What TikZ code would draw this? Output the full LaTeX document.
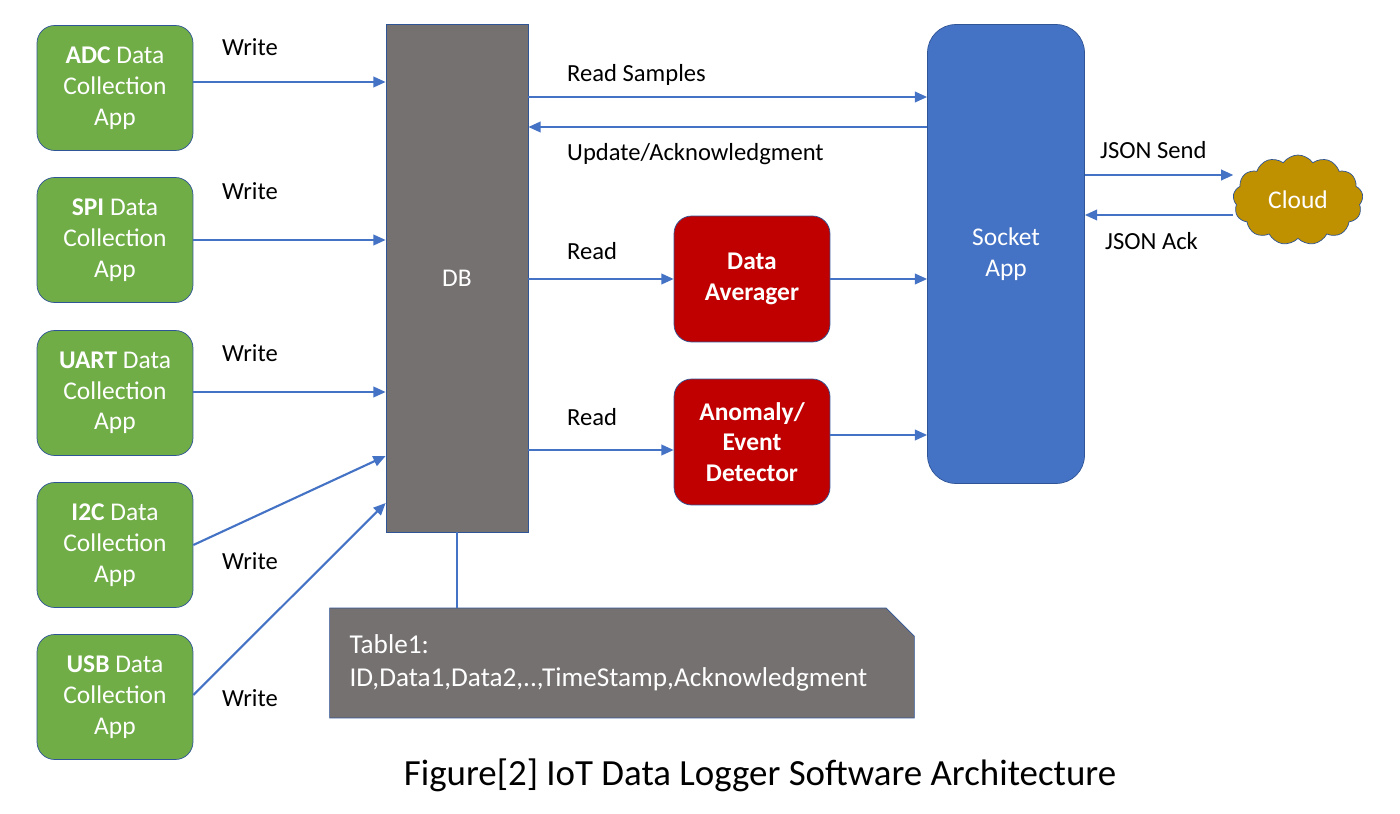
\documentclass[tikz,border=0pt]{standalone}
\usepackage{fontspec}
\setmainfont{Carlito}
\usetikzlibrary{shapes.symbols, shapes.misc, arrows.meta}
\definecolor{appgreen}{RGB}{112,173,71}
\definecolor{edgeblue}{RGB}{47,85,151}
\definecolor{lineblue}{RGB}{68,114,196}
\definecolor{dbgray}{RGB}{118,113,113}
\definecolor{procred}{RGB}{192,0,0}
\definecolor{cloudgold}{RGB}{191,144,0}
\tikzset{
  app/.style={rectangle, rounded corners=10pt, minimum width=3.12cm, minimum height=2.5cm, align=center, draw=edgeblue, fill=appgreen, text=white, font=\fontsize{14.5}{17.5}\selectfont},
  proc/.style={rectangle, rounded corners=10pt, minimum width=3.12cm, minimum height=2.52cm, align=center, draw=edgeblue, fill=procred, text=white, font=\fontsize{14.5}{17.5}\selectfont\bfseries},
  lbl/.style={font=\fontsize{14}{17}\selectfont, anchor=west},
  arrow/.style={line width=1.2pt, draw=lineblue, -{Triangle[length=7pt,width=6pt]}}
}
\begin{document}
\begin{tikzpicture}[x=0.02cm, y=-0.02cm]
  \useasboundingbox (0,0) rectangle (1400,814);
  % sources
  \node (adc) [app] at (115,88) {\textbf{ADC} Data\\Collection\\App};
  \node (spi) [app] at (115,240) {\textbf{SPI} Data\\Collection\\App};
  \node (uart) [app] at (115,393) {\textbf{UART} Data\\Collection\\App};
  \node (iic) [app] at (115,545) {\textbf{I2C} Data\\Collection\\App};
  \node (usb) [app] at (115,697) {\textbf{USB} Data\\Collection\\App};
  % database
  \node (db) [rectangle, draw=edgeblue, fill=dbgray, text=white, minimum width=2.84cm, minimum height=10.16cm, font=\fontsize{14.5}{17.5}\selectfont] at (457,278) {DB};
  \node (table) [chamfered rectangle, chamfered rectangle corners=north east, chamfered rectangle xsep=8pt, chamfered rectangle ysep=8pt, draw=edgeblue, fill=dbgray, text=white, minimum width=11.5cm, minimum height=2.2cm, text width=10.9cm, align=left, font=\fontsize{15.5}{18.5}\selectfont] at (622,663) {Table1:\\ID,Data1,Data2,..,TimeStamp,Acknowledgment};
  % processing
  \node (avg) [proc] at (752,279) {Data\\Averager};
  \node (anom) [proc] at (752,442) {Anomaly/\\Event\\Detector};
  \node (sock) [rectangle, rounded corners=16pt, draw=edgeblue, fill=lineblue, text=white, minimum width=3.14cm, minimum height=9.18cm, align=center, font=\fontsize{14.5}{17.5}\selectfont] at (1006,254) {Socket\\App};
  \node (cloud) [cloud, cloud puffs=13, cloud puff arc=110, aspect=1.6, draw=edgeblue, fill=cloudgold, text=white, minimum width=2.6cm, minimum height=1.8cm, font=\fontsize{14.5}{17.5}\selectfont] at (1298,200) {Cloud};
  % writes
  \draw [arrow] (adc.east |- 0,82) -- (db.west |- 0,82);
  \draw [arrow] (spi.east |- 0,240) -- (db.west |- 0,240);
  \draw [arrow] (uart.east |- 0,392) -- (db.west |- 0,392);
  \draw [arrow] (iic.east |- 0,545) -- (db.west |- 0,456);
  \draw [arrow] (usb.east |- 0,695) -- (db.west |- 0,503);
  \node [lbl] at (216,47) {Write};
  \node [lbl] at (216,191) {Write};
  \node [lbl] at (216,353) {Write};
  \node [lbl] at (216,561) {Write};
  \node [lbl] at (216,698) {Write};
  % db to socket
  \draw [arrow] (db.east |- 0,97) -- (sock.west |- 0,97);
  \draw [arrow] (sock.west |- 0,127) -- (db.east |- 0,127);
  \node [lbl] at (561,75) {Read Samples};
  \node [lbl] at (561,154) {Update/Acknowledgment};
  \draw [arrow] (db.east |- 0,279) -- (avg.west |- 0,279);
  \draw [arrow] (avg.east |- 0,279) -- (sock.west |- 0,279);
  \draw [arrow] (db.east |- 0,450) -- (anom.west |- 0,450);
  \draw [arrow] (anom.east |- 0,435) -- (sock.west |- 0,435);
  \node [lbl] at (561,251) {Read};
  \node [lbl] at (561,417) {Read};
  % cloud
  \draw [arrow] (sock.east |- 0,175) -- (cloud.west |- 0,175);
  \draw [arrow] (cloud.west |- 0,215) -- (sock.east |- 0,215);
  \node [lbl] at (1094,150) {JSON Send};
  \node [lbl] at (1099,241) {JSON Ack};
  \draw [line width=1.2pt, lineblue] (db.south) -- (table.north -| db.south);
  \node (caption) [font=\fontsize{21}{25}\selectfont] at (760,775) {Figure[2] IoT Data Logger Software Architecture};
\end{tikzpicture}
\end{document}
